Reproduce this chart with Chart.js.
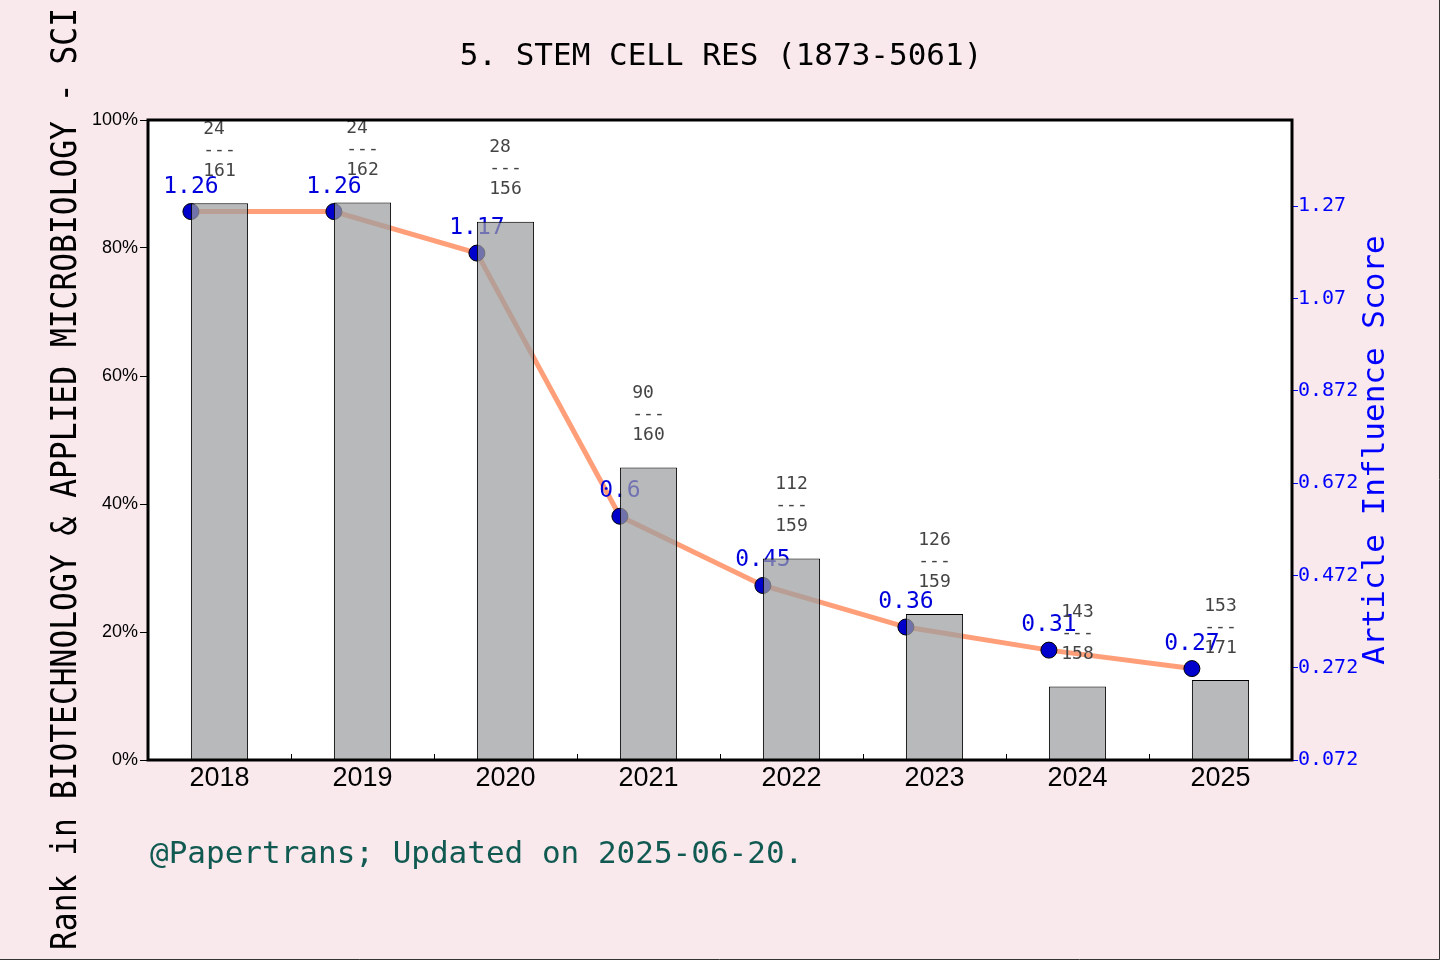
<!DOCTYPE html>
<html>
<head>
<meta charset="utf-8">
<script src="https://cdn.jsdelivr.net/npm/chart.js@4.4.1/dist/chart.umd.min.js"></script>
<style>
  html, body { margin: 0; padding: 0; background: #F9E9EC; }
  #wrap { width: 1440px; height: 960px; position: relative; }
</style>
</head>
<body>
<div id="wrap"><canvas id="c" width="1440" height="960"></canvas></div>
<script>
// ---- data ----
const years = ['2018', '2019', '2020', '2021', '2022', '2023', '2024', '2025'];
const rankPercent = [87.0, 87.1, 84.1, 45.7, 31.5, 22.8, 11.5, 12.5];
const rankNumerator = [24, 24, 28, 90, 112, 126, 143, 153];
const rankDenominator = [161, 162, 156, 160, 159, 159, 158, 171];
const aisValues = [1.26, 1.26, 1.17, 0.6, 0.45, 0.36, 0.31, 0.27];
const aisLabels = ['1.26', '1.26', '1.17', '0.6', '0.45', '0.36', '0.31', '0.27'];
const leftTicks = [0, 20, 40, 60, 80, 100];
const rightTicks = [0.072, 0.272, 0.472, 0.672, 0.872, 1.072, 1.272];
const rightTickLabels = ['0.072', '0.272', '0.472', '0.672', '0.872', '1.07', '1.27'];
const titleText = '5. STEM CELL RES (1873-5061)';
const leftTitle = 'Rank in BIOTECHNOLOGY & APPLIED MICROBIOLOGY - SCI';
const rightTitle = 'Article Influence Score';
const footerText = '@Papertrans; Updated on 2025-06-20.';

const MONO = '"DejaVu Sans Mono", "Liberation Mono", monospace';
const SANS = '"Liberation Sans", Arial, sans-serif';

const decorPlugin = {
  id: 'decor',
  beforeDraw(chart) {
    const { ctx, chartArea: a } = chart;
    ctx.save();
    ctx.fillStyle = '#F9E9EC';
    ctx.fillRect(0, 0, chart.width, chart.height);
    ctx.fillStyle = '#ffffff';
    ctx.fillRect(a.left, a.top, a.right - a.left, a.bottom - a.top);
    ctx.restore();
  },
  afterDatasetDraw(chart, args) {
    if (args.index !== 1) return;
    const { ctx } = chart;
    const meta = chart.getDatasetMeta(1);
    ctx.save();
    ctx.font = '23px ' + MONO;
    ctx.fillStyle = '#0000dd';
    ctx.textAlign = 'center';
    ctx.textBaseline = 'middle';
    meta.data.forEach((pt, i) => {
      ctx.fillText(aisLabels[i], pt.x, pt.y - 25);
    });
    ctx.restore();
  },
  afterDatasetsDraw(chart) {
    const { ctx, chartArea: a } = chart;
    const meta = chart.getDatasetMeta(0);
    ctx.save();
    ctx.font = '18px ' + MONO;
    ctx.fillStyle = '#444444';
    ctx.textBaseline = 'middle';
    ctx.textAlign = 'left';
    meta.data.forEach((bar, i) => {
      const lines = [String(rankNumerator[i]), '---', String(rankDenominator[i])];
      const w = Math.max(...lines.map(l => ctx.measureText(l).width));
      const x0 = bar.x - w / 2;
      ctx.fillText(lines[0], x0, bar.y - 74);
      ctx.fillText(lines[1], x0, bar.y - 53);
      ctx.fillText(lines[2], x0, bar.y - 32);
    });
    const xs = chart.scales.x;
    ctx.strokeStyle = '#000';
    ctx.lineWidth = 1;
    for (let i = 1; i < years.length; i++) {
      const xb = (xs.getPixelForValue(i - 1) + xs.getPixelForValue(i)) / 2;
      ctx.beginPath();
      ctx.moveTo(Math.round(xb) + 0.5, a.bottom);
      ctx.lineTo(Math.round(xb) + 0.5, a.bottom - 6);
      ctx.stroke();
    }
    ctx.lineWidth = 3;
    ctx.strokeStyle = '#000';
    ctx.strokeRect(a.left, a.top, a.right - a.left, a.bottom - a.top);
    ctx.restore();
  },
  afterDraw(chart) {
    const { ctx } = chart;
    ctx.save();
    ctx.fillStyle = '#000';
    ctx.font = '31px ' + MONO;
    ctx.textAlign = 'center';
    ctx.textBaseline = 'middle';
    ctx.fillText(titleText, 721, 57);
    ctx.fillStyle = '#105A52';
    ctx.textAlign = 'left';
    ctx.fillText(footerText, 150, 855);
    ctx.save();
    ctx.translate(67, 950);
    ctx.rotate(-Math.PI / 2);
    ctx.fillStyle = '#000';
    ctx.font = '35px ' + MONO;
    ctx.textAlign = 'left';
    ctx.textBaseline = 'middle';
    ctx.fillText(leftTitle, 0, 0, 942);
    ctx.restore();
    ctx.save();
    ctx.translate(1376, 450);
    ctx.rotate(-Math.PI / 2);
    ctx.fillStyle = '#0000ff';
    ctx.font = '31px ' + MONO;
    ctx.textAlign = 'center';
    ctx.textBaseline = 'middle';
    ctx.fillText(rightTitle, 0, 0);
    ctx.restore();
    ctx.strokeStyle = '#333';
    ctx.lineWidth = 1;
    ctx.beginPath();
    ctx.moveTo(1439.5, 0);
    ctx.lineTo(1439.5, 959.5);
    ctx.lineTo(0, 959.5);
    ctx.stroke();
    ctx.restore();
  }
};

new Chart(document.getElementById('c'), {
  type: 'bar',
  data: {
    labels: years,
    datasets: [
      {
        type: 'bar',
        label: 'Rank',
        data: rankPercent,
        backgroundColor: 'rgba(157,158,160,0.72)',
        borderColor: '#000',
        borderWidth: 1,
        barPercentage: 0.4,
        categoryPercentage: 1.0,
        grouped: false,
        xAxisID: 'x',
        yAxisID: 'y',
        order: 0
      },
      {
        type: 'line',
        label: 'AIS',
        data: aisValues.map((v, i) => ({ x: i, y: v })),
        borderColor: '#FF9F7A',
        borderWidth: 5,
        pointBackgroundColor: '#0000CD',
        pointBorderColor: '#000',
        pointBorderWidth: 1,
        pointRadius: 8,
        tension: 0,
        xAxisID: 'x2',
        yAxisID: 'y2',
        order: 1
      }
    ]
  },
  options: {
    responsive: false,
    animation: false,
    events: [],
    layout: { padding: { top: 120, left: 0, right: 0, bottom: 0 } },
    plugins: { legend: { display: false }, tooltip: { enabled: false } },
    scales: {
      x: {
        type: 'category',
        position: 'bottom',
        offset: true,
        grid: { display: false, drawTicks: false },
        border: { display: false },
        ticks: { color: '#000', font: { family: SANS, size: 27 }, padding: 2, maxRotation: 0 },
        afterFit(s) { s.height = 200; }
      },
      x2: {
        type: 'linear',
        position: 'top',
        display: true,
        offset: false,
        min: -0.3,
        max: 7.7,
        grid: { display: false, drawTicks: false, offset: false },
        border: { display: false },
        ticks: { display: false },
        afterFit(s) { s.height = 0; }
      },
      y: {
        type: 'linear',
        position: 'left',
        min: 0,
        max: 100,
        afterBuildTicks(s) { s.ticks = leftTicks.map(v => ({ value: v })); },
        grid: { drawOnChartArea: false, color: '#000', tickLength: 8, lineWidth: 1 },
        border: { display: false },
        ticks: { color: '#000', font: { family: SANS, size: 18 }, padding: 2, callback: v => v + '%' },
        afterFit(s) { s.width = 148; }
      },
      y2: {
        type: 'linear',
        position: 'right',
        min: 0.072,
        max: 1.4583,
        afterBuildTicks(s) { s.ticks = rightTicks.map(v => ({ value: v })); },
        grid: { drawOnChartArea: false, color: '#0000ff', tickLength: 6, lineWidth: 1 },
        border: { display: false },
        ticks: {
          color: '#0000ff',
          font: { family: MONO, size: 20 },
          padding: 0,
          callback: (v, i) => rightTickLabels[i]
        },
        afterFit(s) { s.width = 148; }
      }
    }
  },
  plugins: [decorPlugin]
});
</script>
</body>
</html>
